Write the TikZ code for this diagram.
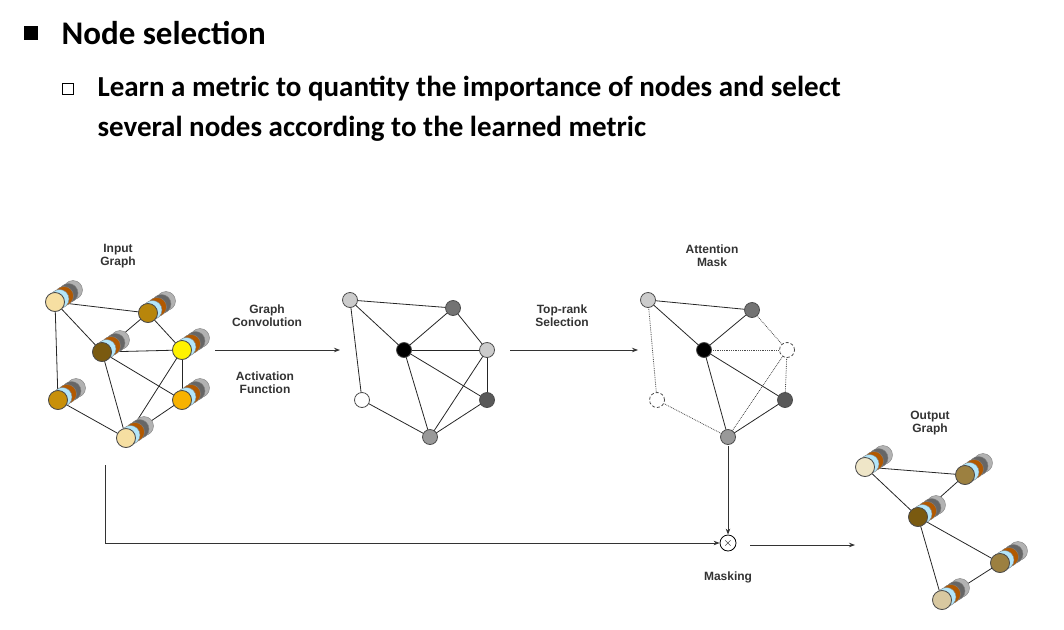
\documentclass[tikz,border=0pt]{standalone}
\usepackage{fontspec}
\setmainfont{Liberation Sans}
\newfontfamily\headfont{Carlito}
\usetikzlibrary{arrows.meta,calc}
\definecolor{lyel}{HTML}{F6DFA2}
\definecolor{dgold}{HTML}{B8860B}
\definecolor{dbrown}{HTML}{7A5A10}
\definecolor{gold}{HTML}{C8900A}
\definecolor{orng}{HTML}{F7B200}
\definecolor{olive}{HTML}{9C8040}
\definecolor{cream}{HTML}{EFE6C8}
\definecolor{tan}{HTML}{D8C8A0}
\tikzset{
  vtx/.style={circle, draw=black!70, thick, minimum size=19pt, inner sep=0pt},
  edge/.style={thick, black!85},
  dedge/.style={thick, black!70, densely dotted},
  lbl/.style={font=\fontsize{12}{13}\selectfont\bfseries, align=center, text=black!80},
  arr/.style={thick, black!80, -{Stealth[length=6pt]}}
}
% feature stack behind a node
\newcommand{\featstack}[1]{%
  \foreach \c [count=\i] in {black!30,black!60,orange!70!black,cyan!30,#1}
    {\fill[\c, draw=black!50] (4.5*5-4.5*\i,-3*5+3*\i) circle (9.5pt);}}
\begin{document}
\begin{tikzpicture}[x=1pt,y=-1pt]
\useasboundingbox (0,0) rectangle (1064,629);
% header
\fill (24,26) rectangle (38,40);
\node[anchor=west, font=\headfont\fontsize{33}{36}\selectfont\bfseries] (title) at (58,33) {Node selection};
\draw[thick] (62,83) rectangle (73,94);
\node[anchor=west, font=\headfont\fontsize{29}{40}\selectfont\bfseries, align=left] (sub) at (94,109)
  {Learn a metric to quantity the importance of nodes and select\\several nodes according to the learned metric};

% input graph
\foreach \n/\x/\y in {iA/55/302, iB/148/313, iC/102/352, iD/182/350, iE/58/400, iF/182/400, iG/126/438}
  {\coordinate (\n) at (\x,\y);}
\foreach \a/\b in {iA/iB,iA/iC,iA/iE,iB/iC,iB/iD,iC/iD,iC/iF,iC/iG,iD/iG,iD/iF,iE/iG,iF/iG}
  {\draw[edge] (\a) -- (\b);}
\foreach \n/\f in {iA/lyel, iB/dgold, iC/dbrown, iD/yellow, iE/gold, iF/orng, iG/lyel}
  {\begin{scope}[shift={(\n)}]
    \featstack{\f}
    \node[vtx, fill=\f] (\n n) at (0,0) {};
  \end{scope}}
\node[lbl] (inlbl) at (118,256) {Input\\Graph};

% convolved graph
\foreach \n/\x/\y in {cA/350/300, cB/453/308, cC/404/350, cD/487/350, cE/362/400, cF/487/400, cG/430/437}
  {\coordinate (\n) at (\x,\y);}
\foreach \a/\b in {cA/cB,cA/cC,cA/cE,cB/cC,cB/cD,cC/cD,cC/cF,cC/cG,cD/cG,cD/cF,cE/cG,cF/cG}
  {\draw[edge] (\a) -- (\b);}
\foreach \n/\f in {cA/black!20, cB/black!55, cC/black, cD/black!20, cE/white, cF/black!65, cG/black!40}
  {\node[vtx, fill=\f, minimum size=15pt] (\n n) at (\n) {};}

% attention mask
\foreach \n/\x/\y in {mA/648/300, mB/752/310, mC/704/350, mD/787/350, mE/657/400, mF/785/400, mG/728/437}
  {\coordinate (\n) at (\x,\y);}
\foreach \a/\b in {mA/mB,mA/mC,mB/mC,mC/mF,mC/mG,mF/mG}
  {\draw[edge] (\a) -- (\b);}
\foreach \a/\b in {mA/mE,mB/mD,mC/mD,mD/mG,mD/mF,mE/mG}
  {\draw[dedge] (\a) -- (\b);}
\foreach \n/\f in {mA/black!20, mB/black!55, mC/black, mF/black!65, mG/black!40}
  {\node[vtx, fill=\f, minimum size=15pt] (\n n) at (\n) {};}
\foreach \n in {mD, mE}
  {\node[vtx, fill=white, densely dashed, minimum size=15pt] (\n n) at (\n) {};}
\node[lbl] (attlbl) at (712,256) {Attention\\Mask};

% output graph
\foreach \n/\x/\y in {oA/865/467, oB/965/475, oC/918/517, oF/1000/563, oG/942/600}
  {\coordinate (\n) at (\x,\y);}
\foreach \a/\b in {oA/oB,oA/oC,oB/oC,oC/oF,oC/oG,oF/oG}
  {\draw[edge] (\a) -- (\b);}
\foreach \n/\f in {oA/cream, oB/olive, oC/dbrown, oF/olive, oG/tan}
  {\begin{scope}[shift={(\n)}]
    \featstack{\f}
    \node[vtx, fill=\f] (\n n) at (0,0) {};
  \end{scope}}
\node[lbl] (outlbl) at (930,423) {Output\\Graph};

% operations
\coordinate (c1s) at (215,350);
\coordinate (c1e) at (340,350);
\draw[arr] (c1s) -- (c1e);
\node[lbl] (gconv) at (267,316) {Graph\\Convolution};
\node[lbl] (act) at (265,383) {Activation\\Function};
\coordinate (c2s) at (510,350);
\coordinate (c2e) at (638,350);
\draw[arr] (c2s) -- (c2e);
\node[lbl] (topk) at (562,316) {Top-rank\\Selection};

\node[circle, draw=black, thick, inner sep=0pt, minimum size=16pt, font=\bfseries\large] (mult) at (728,543) {$\times$};
\node[lbl] (mask) at (728,577) {Masking};
\coordinate (mtop) at (728,446);
\draw[arr] (mtop) -- (mult);
\coordinate (skip) at (105,465);
\draw[arr] (skip) |- (mult);
\coordinate (outs) at (750,545);
\coordinate (oute) at (855,545);
\draw[arr] (outs) -- (oute);
\end{tikzpicture}
\end{document}
